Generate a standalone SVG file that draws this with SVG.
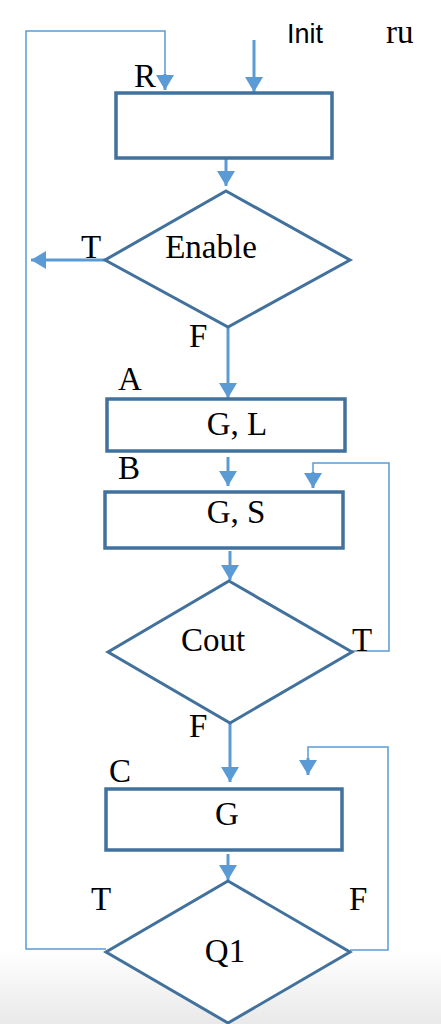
<svg xmlns="http://www.w3.org/2000/svg" width="441" height="1024" viewBox="0 0 441 1024">
<defs>
<linearGradient id="bg" x1="0" y1="0" x2="0" y2="1">
<stop offset="0" stop-color="#ffffff"/>
<stop offset="1" stop-color="#e9e9e9"/>
</linearGradient>
<marker id="ah" markerUnits="userSpaceOnUse" markerWidth="18" markerHeight="18" refX="15" refY="9" orient="auto">
<path d="M0,0 L15,9 L0,18 z" fill="#5b9bd5"/>
</marker>
</defs>
<style>
.box{fill:#ffffff;stroke:#41719c;stroke-width:3.5}
.dia{fill:#ffffff;stroke:#41719c;stroke-width:3}
.c{fill:none;stroke:#5b9bd5;stroke-width:3}
.l{fill:none;stroke:#5b9bd5;stroke-width:1.5}
.t{font-family:"Liberation Serif","Times New Roman",serif;font-size:33px;fill:#000}
.s{font-family:"Liberation Sans",Arial,sans-serif;font-size:27px;fill:#000}
</style>
<rect x="0" y="950" width="441" height="74" fill="url(#bg)"/>
<g id="connectors">
<path class="l" d="M106,949 H26 V31 H165 V77" />
<path class="c" d="M165,74 V90" marker-end="url(#ah)"/>
<path class="c" d="M254,40 V92" marker-end="url(#ah)"/>
<path class="c" d="M226,158 V186" marker-end="url(#ah)"/>
<path class="c" d="M105,260 H31" marker-end="url(#ah)"/>
<path class="c" d="M228,327 V398" marker-end="url(#ah)"/>
<path class="c" d="M228,457 V486" marker-end="url(#ah)"/>
<path class="l" d="M351,651 H389 V463 H313 V475"/>
<path class="c" d="M313,472 V488" marker-end="url(#ah)"/>
<path class="c" d="M230,551 V580" marker-end="url(#ah)"/>
<path class="c" d="M230,723 V782" marker-end="url(#ah)"/>
<path class="l" d="M350,950 H388 V747 H308 V760"/>
<path class="c" d="M308,758 V775" marker-end="url(#ah)"/>
<path class="c" d="M228,854 V880" marker-end="url(#ah)"/>
</g>
<g id="init-label"><text class="s" x="287" y="43">Init</text></g>
<g id="ru-label"><text class="t" x="386" y="43" font-size="28">ru</text></g>
<g id="node-top">
<rect class="box" x="116" y="93" width="216" height="65"/>
<text class="t" x="134" y="87">R</text>
</g>
<g id="node-enable">
<polygon class="dia" points="226,191 350,260 228,327 105,260"/>
<text class="t" x="211" y="258" text-anchor="middle">Enable</text>
<text class="t" x="81" y="258">T</text>
<text class="t" x="189" y="347">F</text>
</g>
<g id="node-a">
<rect class="box" x="107" y="399" width="238" height="52"/>
<text class="t" x="237" y="435" text-anchor="middle">G, L</text>
<text class="t" x="118" y="390">A</text>
</g>
<g id="node-b">
<rect class="box" x="105" y="492" width="238" height="56"/>
<text class="t" x="236" y="523" text-anchor="middle">G, S</text>
<text class="t" x="118" y="479">B</text>
</g>
<g id="node-cout">
<polygon class="dia" points="229,581 352,652 230,723 108,652"/>
<text class="t" x="213" y="651" text-anchor="middle">Cout</text>
<text class="t" x="352" y="651">T</text>
<text class="t" x="189" y="737">F</text>
</g>
<g id="node-c">
<rect class="box" x="106" y="789" width="236" height="61"/>
<text class="t" x="227" y="825" text-anchor="middle">G</text>
<text class="t" x="109" y="782">C</text>
</g>
<g id="node-q1">
<polygon class="dia" points="228,881 350,952 228,1023 106,952"/>
<text class="t" x="225" y="962" text-anchor="middle">Q1</text>
<text class="t" x="91" y="910">T</text>
<text class="t" x="349" y="910">F</text>
</g>
</svg>
